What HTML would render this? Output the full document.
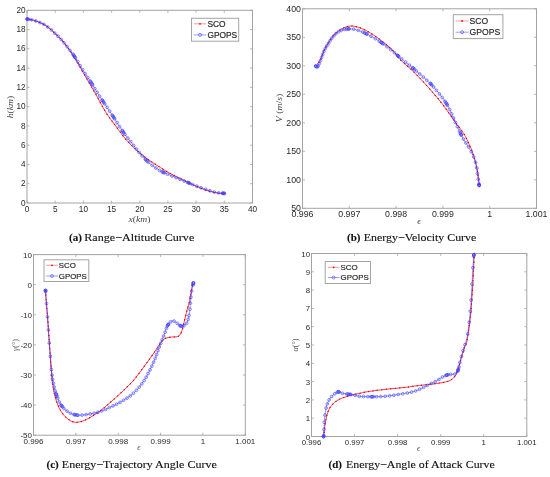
<!DOCTYPE html>
<html><head><meta charset="utf-8"><style>
html,body{margin:0;padding:0;background:#fff;}
body{width:550px;height:477px;overflow:hidden;}
svg{display:block;}
.t{font-family:"Liberation Sans",Arial,sans-serif;font-size:8.2px;fill:#282828;}
.lg{font-family:"Liberation Sans",Arial,sans-serif;font-size:8.1px;fill:#282828;stroke:#282828;stroke-width:0.18px;}
.ml{font-family:"Liberation Serif","DejaVu Serif",serif;font-size:9px;fill:#444;}
.ms{font-family:"Liberation Serif","DejaVu Serif",serif;font-size:8.2px;fill:#555;}
.me{font-family:"Liberation Serif","DejaVu Serif",serif;font-size:8px;fill:#555;}
.cap{font-family:"Liberation Serif","DejaVu Serif",serif;font-size:11px;fill:#111;stroke:#111;stroke-width:0.12px;}
</style></head><body>
<svg width="550" height="477" viewBox="0 0 550 477">
<rect width="550" height="477" fill="#fff"/>
<rect x="27.0" y="10.3" width="225.5" height="192.7" fill="none" stroke="#a4a4a4" stroke-width="1"/>
<path d="M27.0 203.0v-2.5M27.0 10.3v2.5M55.2 203.0v-2.5M55.2 10.3v2.5M83.4 203.0v-2.5M83.4 10.3v2.5M111.6 203.0v-2.5M111.6 10.3v2.5M139.8 203.0v-2.5M139.8 10.3v2.5M167.9 203.0v-2.5M167.9 10.3v2.5M196.1 203.0v-2.5M196.1 10.3v2.5M224.3 203.0v-2.5M224.3 10.3v2.5M252.5 203.0v-2.5M252.5 10.3v2.5M27.0 203.0h2.5M252.5 203.0h-2.5M27.0 183.7h2.5M252.5 183.7h-2.5M27.0 164.5h2.5M252.5 164.5h-2.5M27.0 145.2h2.5M252.5 145.2h-2.5M27.0 125.9h2.5M252.5 125.9h-2.5M27.0 106.7h2.5M252.5 106.7h-2.5M27.0 87.4h2.5M252.5 87.4h-2.5M27.0 68.1h2.5M252.5 68.1h-2.5M27.0 48.8h2.5M252.5 48.8h-2.5M27.0 29.6h2.5M252.5 29.6h-2.5M27.0 10.3h2.5M252.5 10.3h-2.5" stroke="#a4a4a4" stroke-width="0.8" fill="none"/>
<text x="27.0" y="211.9" text-anchor="middle" class="t" style="font-size:8.2px">0</text>
<text x="55.2" y="211.9" text-anchor="middle" class="t" style="font-size:8.2px">5</text>
<text x="83.4" y="211.9" text-anchor="middle" class="t" style="font-size:8.2px">10</text>
<text x="111.6" y="211.9" text-anchor="middle" class="t" style="font-size:8.2px">15</text>
<text x="139.8" y="211.9" text-anchor="middle" class="t" style="font-size:8.2px">20</text>
<text x="167.9" y="211.9" text-anchor="middle" class="t" style="font-size:8.2px">25</text>
<text x="196.1" y="211.9" text-anchor="middle" class="t" style="font-size:8.2px">30</text>
<text x="224.3" y="211.9" text-anchor="middle" class="t" style="font-size:8.2px">35</text>
<text x="252.5" y="211.9" text-anchor="middle" class="t" style="font-size:8.2px">40</text>
<text x="25.5" y="205.6" text-anchor="end" class="t" style="font-size:8.2px">0</text>
<text x="25.5" y="186.3" text-anchor="end" class="t" style="font-size:8.2px">2</text>
<text x="25.5" y="167.1" text-anchor="end" class="t" style="font-size:8.2px">4</text>
<text x="25.5" y="147.8" text-anchor="end" class="t" style="font-size:8.2px">6</text>
<text x="25.5" y="128.5" text-anchor="end" class="t" style="font-size:8.2px">8</text>
<text x="25.5" y="109.2" text-anchor="end" class="t" style="font-size:8.2px">10</text>
<text x="25.5" y="90.0" text-anchor="end" class="t" style="font-size:8.2px">12</text>
<text x="25.5" y="70.7" text-anchor="end" class="t" style="font-size:8.2px">14</text>
<text x="25.5" y="51.4" text-anchor="end" class="t" style="font-size:8.2px">16</text>
<text x="25.5" y="32.2" text-anchor="end" class="t" style="font-size:8.2px">18</text>
<text x="25.5" y="12.9" text-anchor="end" class="t" style="font-size:8.2px">20</text>
<path d="M27.1 19.0C28.5 19.3 32.4 19.8 35.5 20.9C38.6 22.0 42.5 23.4 46.0 25.7C49.5 28.0 53.4 31.9 56.4 34.7C59.4 37.5 61.0 39.0 63.8 42.5C66.6 46.0 70.2 51.0 73.2 55.5C76.2 60.0 78.8 64.9 81.6 69.7C84.4 74.5 87.3 79.8 90.0 84.4C92.7 89.0 94.9 92.7 97.5 97.3C100.1 101.9 102.4 106.9 105.5 111.8C108.6 116.7 112.5 121.7 116.0 126.4C119.5 131.1 122.9 136.0 126.4 140.0C129.9 144.0 133.4 147.3 136.9 150.5C140.4 153.7 143.5 156.1 147.4 158.9C151.3 161.8 156.6 165.1 160.5 167.6C164.4 170.1 167.5 172.0 171.0 173.9C174.5 175.8 177.9 177.3 181.4 179.1C184.9 180.8 188.1 182.7 191.9 184.4C195.8 186.2 201.0 188.3 204.5 189.6C208.0 190.9 210.5 191.5 212.9 192.1C215.3 192.7 217.1 193.0 219.0 193.2C220.9 193.4 223.4 193.4 224.3 193.4" fill="none" stroke="#ff2020" stroke-width="0.85"/>
<g fill="#d0002a"><circle cx="27.1" cy="19.0" r="0.7"/><circle cx="31.3" cy="19.8" r="0.7"/><circle cx="35.5" cy="20.9" r="0.7"/><circle cx="39.6" cy="22.4" r="0.7"/><circle cx="43.5" cy="24.2" r="0.7"/><circle cx="47.4" cy="26.7" r="0.7"/><circle cx="50.7" cy="29.4" r="0.7"/><circle cx="53.8" cy="32.3" r="0.7"/><circle cx="57.0" cy="35.2" r="0.7"/><circle cx="60.2" cy="38.4" r="0.7"/><circle cx="63.0" cy="41.5" r="0.7"/><circle cx="65.9" cy="45.2" r="0.7"/><circle cx="68.4" cy="48.6" r="0.7"/><circle cx="71.0" cy="52.3" r="0.7"/><circle cx="73.5" cy="56.0" r="0.7"/><circle cx="75.8" cy="59.7" r="0.7"/><circle cx="78.0" cy="63.4" r="0.7"/><circle cx="80.2" cy="67.3" r="0.7"/><circle cx="82.4" cy="71.2" r="0.7"/><circle cx="84.7" cy="75.1" r="0.7"/><circle cx="87.0" cy="79.1" r="0.7"/><circle cx="89.2" cy="83.0" r="0.7"/><circle cx="91.5" cy="87.1" r="0.7"/><circle cx="93.8" cy="90.9" r="0.7"/><circle cx="96.0" cy="94.6" r="0.7"/><circle cx="98.3" cy="98.7" r="0.7"/><circle cx="100.3" cy="102.5" r="0.7"/><circle cx="102.4" cy="106.4" r="0.7"/><circle cx="104.6" cy="110.3" r="0.7"/><circle cx="107.1" cy="114.2" r="0.7"/><circle cx="109.5" cy="117.7" r="0.7"/><circle cx="112.1" cy="121.1" r="0.7"/><circle cx="114.6" cy="124.5" r="0.7"/><circle cx="117.4" cy="128.3" r="0.7"/><circle cx="120.2" cy="132.1" r="0.7"/><circle cx="122.9" cy="135.7" r="0.7"/><circle cx="125.7" cy="139.2" r="0.7"/><circle cx="128.5" cy="142.3" r="0.7"/><circle cx="131.6" cy="145.6" r="0.7"/><circle cx="134.8" cy="148.6" r="0.7"/><circle cx="137.9" cy="151.4" r="0.7"/><circle cx="141.3" cy="154.3" r="0.7"/><circle cx="144.8" cy="157.0" r="0.7"/><circle cx="148.2" cy="159.5" r="0.7"/><circle cx="151.7" cy="161.9" r="0.7"/><circle cx="155.3" cy="164.3" r="0.7"/><circle cx="158.9" cy="166.6" r="0.7"/><circle cx="162.8" cy="169.0" r="0.7"/><circle cx="166.6" cy="171.4" r="0.7"/><circle cx="170.3" cy="173.5" r="0.7"/><circle cx="174.1" cy="175.5" r="0.7"/><circle cx="177.9" cy="177.4" r="0.7"/><circle cx="181.7" cy="179.3" r="0.7"/><circle cx="185.5" cy="181.2" r="0.7"/><circle cx="189.3" cy="183.2" r="0.7"/><circle cx="193.5" cy="185.1" r="0.7"/><circle cx="197.4" cy="186.8" r="0.7"/><circle cx="201.4" cy="188.4" r="0.7"/><circle cx="205.5" cy="190.0" r="0.7"/><circle cx="209.6" cy="191.3" r="0.7"/><circle cx="213.8" cy="192.3" r="0.7"/><circle cx="218.1" cy="193.1" r="0.7"/><circle cx="222.4" cy="193.4" r="0.7"/><circle cx="224.3" cy="193.4" r="0.7"/></g>
<path d="M27.1 19.0C28.5 19.3 32.4 19.8 35.5 20.9C38.6 22.0 42.5 23.4 46.0 25.7C49.5 28.0 53.4 31.9 56.4 34.7C59.4 37.5 60.8 38.9 63.8 42.5C66.8 46.1 71.1 51.6 74.2 56.1C77.3 60.6 79.8 65.3 82.6 69.7C85.4 74.1 88.5 78.5 91.0 82.3C93.5 86.1 95.1 89.3 97.3 92.8C99.5 96.3 101.8 99.5 104.4 103.4C107.0 107.3 109.8 111.5 112.8 116.0C115.8 120.5 118.9 125.9 122.2 130.6C125.5 135.3 129.5 140.2 132.7 144.2C135.8 148.2 138.3 151.5 141.1 154.7C143.9 157.8 146.6 160.6 149.5 163.1C152.4 165.6 155.9 168.1 158.4 169.7C160.9 171.3 161.6 171.5 164.7 172.9C167.8 174.3 173.2 176.4 177.2 178.1C181.2 179.8 185.0 181.3 188.8 182.9C192.7 184.5 196.3 186.0 200.3 187.5C204.3 189.0 209.8 190.8 212.9 191.7C216.0 192.6 217.1 192.7 219.0 193.0C220.9 193.3 223.4 193.3 224.3 193.4" fill="none" stroke="#3030ff" stroke-width="0.7" stroke-opacity="0.75"/>
<g fill="none" stroke="#4040ff" stroke-width="0.85" stroke-opacity="0.72"><circle cx="27.1" cy="19.0" r="1.4"/><circle cx="31.6" cy="19.8" r="1.4"/><circle cx="35.8" cy="21.0" r="1.4"/><circle cx="39.9" cy="22.6" r="1.4"/><circle cx="43.9" cy="24.4" r="1.4"/><circle cx="47.8" cy="27.0" r="1.4"/><circle cx="51.4" cy="30.0" r="1.4"/><circle cx="54.8" cy="33.2" r="1.4"/><circle cx="58.0" cy="36.2" r="1.4"/><circle cx="61.2" cy="39.5" r="1.4"/><circle cx="64.1" cy="42.9" r="1.4"/><circle cx="67.1" cy="46.6" r="1.4"/><circle cx="70.0" cy="50.4" r="1.4"/><circle cx="72.9" cy="54.2" r="1.4"/><circle cx="75.4" cy="57.9" r="1.4"/><circle cx="77.7" cy="61.6" r="1.4"/><circle cx="80.1" cy="65.7" r="1.4"/><circle cx="82.6" cy="69.7" r="1.4"/><circle cx="85.2" cy="73.6" r="1.4"/><circle cx="87.8" cy="77.5" r="1.4"/><circle cx="90.2" cy="81.1" r="1.4"/><circle cx="92.6" cy="84.9" r="1.4"/><circle cx="94.8" cy="88.7" r="1.4"/><circle cx="97.1" cy="92.4" r="1.4"/><circle cx="99.6" cy="96.3" r="1.4"/><circle cx="102.1" cy="100.1" r="1.4"/><circle cx="104.7" cy="103.8" r="1.4"/><circle cx="107.1" cy="107.4" r="1.4"/><circle cx="109.6" cy="111.1" r="1.4"/><circle cx="112.2" cy="115.1" r="1.4"/><circle cx="114.6" cy="118.8" r="1.4"/><circle cx="117.1" cy="122.7" r="1.4"/><circle cx="119.6" cy="126.7" r="1.4"/><circle cx="122.2" cy="130.6" r="1.4"/><circle cx="125.0" cy="134.4" r="1.4"/><circle cx="127.9" cy="138.1" r="1.4"/><circle cx="130.7" cy="141.7" r="1.4"/><circle cx="133.6" cy="145.4" r="1.4"/><circle cx="136.5" cy="149.1" r="1.4"/><circle cx="139.2" cy="152.5" r="1.4"/><circle cx="142.2" cy="155.9" r="1.4"/><circle cx="145.3" cy="159.1" r="1.4"/><circle cx="148.6" cy="162.3" r="1.4"/><circle cx="152.2" cy="165.3" r="1.4"/><circle cx="155.9" cy="168.0" r="1.4"/><circle cx="159.5" cy="170.4" r="1.4"/><circle cx="163.6" cy="172.4" r="1.4"/><circle cx="167.6" cy="174.2" r="1.4"/><circle cx="172.0" cy="176.0" r="1.4"/><circle cx="176.0" cy="177.6" r="1.4"/><circle cx="180.0" cy="179.3" r="1.4"/><circle cx="184.2" cy="181.0" r="1.4"/><circle cx="188.4" cy="182.7" r="1.4"/><circle cx="192.6" cy="184.5" r="1.4"/><circle cx="196.8" cy="186.2" r="1.4"/><circle cx="201.1" cy="187.8" r="1.4"/><circle cx="205.6" cy="189.3" r="1.4"/><circle cx="210.0" cy="190.8" r="1.4"/><circle cx="214.3" cy="192.1" r="1.4"/><circle cx="218.6" cy="192.9" r="1.4"/><circle cx="223.0" cy="193.3" r="1.4"/><circle cx="224.3" cy="193.4" r="1.4"/><circle cx="27.2" cy="19.0" r="1.4"/><circle cx="27.6" cy="19.1" r="1.4"/><circle cx="28.7" cy="19.3" r="1.4"/><circle cx="73.6" cy="55.2" r="1.4"/><circle cx="74.2" cy="56.1" r="1.4"/><circle cx="74.8" cy="57.0" r="1.4"/><circle cx="90.8" cy="81.9" r="1.4"/><circle cx="91.5" cy="83.1" r="1.4"/><circle cx="92.2" cy="84.2" r="1.4"/><circle cx="102.4" cy="100.4" r="1.4"/><circle cx="103.1" cy="101.5" r="1.4"/><circle cx="103.9" cy="102.6" r="1.4"/><circle cx="112.8" cy="116.0" r="1.4"/><circle cx="113.4" cy="116.9" r="1.4"/><circle cx="114.0" cy="117.9" r="1.4"/><circle cx="122.5" cy="131.1" r="1.4"/><circle cx="123.2" cy="132.0" r="1.4"/><circle cx="123.9" cy="133.0" r="1.4"/><circle cx="145.8" cy="159.7" r="1.4"/><circle cx="146.7" cy="160.5" r="1.4"/><circle cx="147.5" cy="161.3" r="1.4"/><circle cx="162.2" cy="171.8" r="1.4"/><circle cx="163.3" cy="172.3" r="1.4"/><circle cx="164.4" cy="172.8" r="1.4"/><circle cx="187.6" cy="182.4" r="1.4"/><circle cx="188.8" cy="182.9" r="1.4"/><circle cx="189.9" cy="183.4" r="1.4"/><circle cx="222.4" cy="193.3" r="1.4"/><circle cx="223.4" cy="193.4" r="1.4"/><circle cx="224.3" cy="193.4" r="1.4"/></g>
<rect x="191.5" y="18.3" width="47.2" height="22.9" fill="#fff" stroke="#a4a4a4" stroke-width="1"/>
<path d="M193.7 23.8H206.3" stroke="#ff5a5a" stroke-width="1" stroke-opacity="0.6"/>
<circle cx="200.0" cy="23.8" r="0.9" fill="#ff0000"/>
<path d="M193.7 34.9H206.3" stroke="#5a5aff" stroke-width="1" stroke-opacity="0.6"/>
<circle cx="200.0" cy="34.9" r="1.5" fill="none" stroke="#4848ff" stroke-width="0.85" stroke-opacity="0.75"/>
<text x="207.4" y="26.7" class="lg" style="font-size:8.40px">SCO</text>
<text x="207.4" y="37.8" class="lg" style="font-size:8.40px">GPOPS</text>
<rect x="302.5" y="8.8" width="234.0" height="199.5" fill="none" stroke="#a4a4a4" stroke-width="1"/>
<path d="M302.5 208.3v-2.5M302.5 8.8v2.5M349.3 208.3v-2.5M349.3 8.8v2.5M396.1 208.3v-2.5M396.1 8.8v2.5M442.9 208.3v-2.5M442.9 8.8v2.5M489.7 208.3v-2.5M489.7 8.8v2.5M536.5 208.3v-2.5M536.5 8.8v2.5M302.5 208.3h2.5M536.5 208.3h-2.5M302.5 179.8h2.5M536.5 179.8h-2.5M302.5 151.3h2.5M536.5 151.3h-2.5M302.5 122.8h2.5M536.5 122.8h-2.5M302.5 94.3h2.5M536.5 94.3h-2.5M302.5 65.8h2.5M536.5 65.8h-2.5M302.5 37.3h2.5M536.5 37.3h-2.5M302.5 8.8h2.5M536.5 8.8h-2.5" stroke="#a4a4a4" stroke-width="0.8" fill="none"/>
<text x="302.5" y="217.4" text-anchor="middle" class="t" style="font-size:8.8px">0.996</text>
<text x="349.3" y="217.4" text-anchor="middle" class="t" style="font-size:8.8px">0.997</text>
<text x="396.1" y="217.4" text-anchor="middle" class="t" style="font-size:8.8px">0.998</text>
<text x="442.9" y="217.4" text-anchor="middle" class="t" style="font-size:8.8px">0.999</text>
<text x="489.7" y="217.4" text-anchor="middle" class="t" style="font-size:8.8px">1</text>
<text x="536.5" y="217.4" text-anchor="middle" class="t" style="font-size:8.8px">1.001</text>
<text x="301.0" y="211.2" text-anchor="end" class="t" style="font-size:8.8px">50</text>
<text x="301.0" y="182.7" text-anchor="end" class="t" style="font-size:8.8px">100</text>
<text x="301.0" y="154.2" text-anchor="end" class="t" style="font-size:8.8px">150</text>
<text x="301.0" y="125.7" text-anchor="end" class="t" style="font-size:8.8px">200</text>
<text x="301.0" y="97.2" text-anchor="end" class="t" style="font-size:8.8px">250</text>
<text x="301.0" y="68.7" text-anchor="end" class="t" style="font-size:8.8px">300</text>
<text x="301.0" y="40.2" text-anchor="end" class="t" style="font-size:8.8px">350</text>
<text x="301.0" y="11.7" text-anchor="end" class="t" style="font-size:8.8px">400</text>
<path d="M316.3 65.9C317.1 64.7 319.5 61.2 320.8 58.6C322.1 56.0 323.0 52.7 324.3 50.0C325.6 47.3 327.0 44.9 328.5 42.5C330.0 40.1 331.6 37.5 333.5 35.4C335.4 33.3 337.4 31.5 339.8 30.0C342.2 28.5 345.4 26.8 348.2 26.3C351.0 25.8 353.5 26.0 356.6 26.8C359.7 27.6 363.2 28.9 367.0 31.0C370.8 33.1 375.4 36.2 379.6 39.3C383.8 42.4 388.8 46.4 392.2 49.8C395.6 53.1 396.9 56.2 400.0 59.4C403.1 62.6 407.0 65.6 410.5 68.9C414.0 72.2 417.5 75.6 421.0 79.3C424.5 83.0 427.9 86.9 431.4 90.9C434.9 94.9 438.8 99.4 441.9 103.4C445.0 107.4 447.7 111.3 450.3 115.0C452.9 118.7 455.3 122.3 457.6 125.4C459.9 128.5 462.0 130.7 463.9 133.8C465.8 137.0 467.8 141.4 469.1 144.3C470.5 147.2 471.0 148.3 472.0 151.0C473.0 153.7 474.1 156.7 475.0 160.3C475.9 163.9 477.0 168.8 477.7 172.8C478.4 176.8 478.9 182.4 479.2 184.3" fill="none" stroke="#ff2020" stroke-width="0.85"/>
<g fill="#d0002a"><circle cx="316.3" cy="65.9" r="0.7"/><circle cx="318.7" cy="62.2" r="0.7"/><circle cx="320.8" cy="58.6" r="0.7"/><circle cx="322.5" cy="54.6" r="0.7"/><circle cx="324.0" cy="50.5" r="0.7"/><circle cx="326.0" cy="46.7" r="0.7"/><circle cx="328.2" cy="43.0" r="0.7"/><circle cx="330.5" cy="39.3" r="0.7"/><circle cx="333.1" cy="35.8" r="0.7"/><circle cx="336.2" cy="32.7" r="0.7"/><circle cx="339.8" cy="30.0" r="0.7"/><circle cx="343.6" cy="27.9" r="0.7"/><circle cx="347.6" cy="26.4" r="0.7"/><circle cx="352.0" cy="26.0" r="0.7"/><circle cx="356.3" cy="26.7" r="0.7"/><circle cx="360.5" cy="28.0" r="0.7"/><circle cx="364.4" cy="29.7" r="0.7"/><circle cx="368.2" cy="31.7" r="0.7"/><circle cx="371.9" cy="33.9" r="0.7"/><circle cx="375.8" cy="36.5" r="0.7"/><circle cx="379.2" cy="39.0" r="0.7"/><circle cx="382.6" cy="41.6" r="0.7"/><circle cx="386.2" cy="44.5" r="0.7"/><circle cx="389.6" cy="47.4" r="0.7"/><circle cx="392.9" cy="50.5" r="0.7"/><circle cx="395.5" cy="53.7" r="0.7"/><circle cx="398.1" cy="57.2" r="0.7"/><circle cx="400.9" cy="60.4" r="0.7"/><circle cx="404.4" cy="63.5" r="0.7"/><circle cx="407.6" cy="66.3" r="0.7"/><circle cx="410.9" cy="69.2" r="0.7"/><circle cx="414.0" cy="72.3" r="0.7"/><circle cx="417.2" cy="75.4" r="0.7"/><circle cx="420.3" cy="78.6" r="0.7"/><circle cx="423.4" cy="81.9" r="0.7"/><circle cx="426.5" cy="85.4" r="0.7"/><circle cx="429.7" cy="88.9" r="0.7"/><circle cx="432.5" cy="92.1" r="0.7"/><circle cx="435.3" cy="95.5" r="0.7"/><circle cx="438.2" cy="98.8" r="0.7"/><circle cx="440.9" cy="102.2" r="0.7"/><circle cx="443.7" cy="105.8" r="0.7"/><circle cx="446.3" cy="109.3" r="0.7"/><circle cx="448.7" cy="112.8" r="0.7"/><circle cx="451.3" cy="116.5" r="0.7"/><circle cx="453.8" cy="120.0" r="0.7"/><circle cx="456.5" cy="123.8" r="0.7"/><circle cx="459.2" cy="127.5" r="0.7"/><circle cx="461.9" cy="130.9" r="0.7"/><circle cx="464.3" cy="134.4" r="0.7"/><circle cx="466.4" cy="138.4" r="0.7"/><circle cx="468.2" cy="142.4" r="0.7"/><circle cx="470.0" cy="146.3" r="0.7"/><circle cx="471.7" cy="150.2" r="0.7"/><circle cx="473.2" cy="154.4" r="0.7"/><circle cx="474.5" cy="158.5" r="0.7"/><circle cx="475.6" cy="162.6" r="0.7"/><circle cx="476.5" cy="166.8" r="0.7"/><circle cx="477.4" cy="171.2" r="0.7"/><circle cx="478.1" cy="175.3" r="0.7"/><circle cx="478.7" cy="179.8" r="0.7"/><circle cx="479.2" cy="184.1" r="0.7"/><circle cx="479.2" cy="184.3" r="0.7"/></g>
<path d="M315.7 66.1C316.1 66.2 316.9 67.8 317.8 66.6C318.7 65.4 319.9 61.8 321.0 59.2C322.1 56.6 322.9 53.5 324.1 50.9C325.3 48.3 326.7 46.0 328.3 43.5C329.9 41.0 331.6 38.3 333.5 36.2C335.4 34.1 337.4 32.2 339.8 31.0C342.2 29.8 345.4 29.1 348.2 28.9C351.0 28.7 353.5 29.0 356.6 29.9C359.7 30.8 363.2 32.2 367.0 34.1C370.8 36.0 375.4 38.6 379.6 41.4C383.8 44.2 388.6 48.1 392.2 50.9C395.8 53.7 397.6 55.6 401.0 58.4C404.4 61.2 409.3 65.0 412.6 67.8C415.9 70.6 417.9 72.3 421.0 75.1C424.1 77.9 427.9 80.9 431.4 84.6C434.9 88.3 439.1 93.4 441.9 97.1C444.7 100.8 446.1 102.8 448.2 106.6C450.3 110.4 452.6 116.0 454.5 120.2C456.4 124.4 458.1 128.4 459.7 131.7C461.3 135.0 462.6 137.8 463.9 140.1C465.2 142.4 466.2 143.1 467.7 145.6C469.2 148.1 471.5 151.8 472.9 155.0C474.3 158.2 475.3 161.2 476.1 164.5C476.9 167.8 477.2 171.4 477.7 174.9C478.2 178.4 478.9 183.7 479.2 185.4" fill="none" stroke="#3030ff" stroke-width="0.7" stroke-opacity="0.75"/>
<g fill="none" stroke="#4040ff" stroke-width="0.85" stroke-opacity="0.72"><circle cx="315.7" cy="66.1" r="1.4"/><circle cx="318.1" cy="66.2" r="1.4"/><circle cx="319.3" cy="63.5" r="1.4"/><circle cx="320.5" cy="60.6" r="1.4"/><circle cx="321.6" cy="57.6" r="1.4"/><circle cx="322.7" cy="54.5" r="1.4"/><circle cx="323.9" cy="51.4" r="1.4"/><circle cx="325.2" cy="48.6" r="1.4"/><circle cx="326.8" cy="45.9" r="1.4"/><circle cx="328.5" cy="43.3" r="1.4"/><circle cx="330.1" cy="40.7" r="1.4"/><circle cx="331.8" cy="38.2" r="1.4"/><circle cx="333.9" cy="35.8" r="1.4"/><circle cx="336.0" cy="33.6" r="1.4"/><circle cx="338.6" cy="31.7" r="1.4"/><circle cx="341.3" cy="30.3" r="1.4"/><circle cx="344.4" cy="29.4" r="1.4"/><circle cx="349.0" cy="28.9" r="1.4"/><circle cx="353.7" cy="29.2" r="1.4"/><circle cx="358.2" cy="30.4" r="1.4"/><circle cx="362.6" cy="32.0" r="1.4"/><circle cx="367.0" cy="34.1" r="1.4"/><circle cx="371.0" cy="36.2" r="1.4"/><circle cx="375.3" cy="38.7" r="1.4"/><circle cx="379.2" cy="41.1" r="1.4"/><circle cx="383.1" cy="43.8" r="1.4"/><circle cx="387.0" cy="46.8" r="1.4"/><circle cx="390.7" cy="49.7" r="1.4"/><circle cx="394.5" cy="52.7" r="1.4"/><circle cx="398.0" cy="55.8" r="1.4"/><circle cx="401.7" cy="59.0" r="1.4"/><circle cx="405.6" cy="62.1" r="1.4"/><circle cx="409.3" cy="65.1" r="1.4"/><circle cx="412.9" cy="68.1" r="1.4"/><circle cx="416.4" cy="71.0" r="1.4"/><circle cx="419.8" cy="74.0" r="1.4"/><circle cx="423.3" cy="77.1" r="1.4"/><circle cx="426.8" cy="80.2" r="1.4"/><circle cx="430.3" cy="83.5" r="1.4"/><circle cx="433.6" cy="87.0" r="1.4"/><circle cx="436.5" cy="90.4" r="1.4"/><circle cx="439.4" cy="93.9" r="1.4"/><circle cx="442.2" cy="97.5" r="1.4"/><circle cx="444.9" cy="101.2" r="1.4"/><circle cx="447.4" cy="105.2" r="1.4"/><circle cx="449.7" cy="109.5" r="1.4"/><circle cx="451.6" cy="113.8" r="1.4"/><circle cx="453.5" cy="118.0" r="1.4"/><circle cx="455.4" cy="122.3" r="1.4"/><circle cx="457.4" cy="126.7" r="1.4"/><circle cx="459.4" cy="131.0" r="1.4"/><circle cx="461.3" cy="135.1" r="1.4"/><circle cx="463.4" cy="139.1" r="1.4"/><circle cx="465.9" cy="142.9" r="1.4"/><circle cx="468.5" cy="146.9" r="1.4"/><circle cx="471.3" cy="151.7" r="1.4"/><circle cx="473.7" cy="156.9" r="1.4"/><circle cx="475.5" cy="162.2" r="1.4"/><circle cx="476.8" cy="167.9" r="1.4"/><circle cx="477.5" cy="173.5" r="1.4"/><circle cx="478.3" cy="179.2" r="1.4"/><circle cx="479.1" cy="184.8" r="1.4"/><circle cx="479.2" cy="185.4" r="1.4"/><circle cx="315.7" cy="66.1" r="1.4"/><circle cx="316.3" cy="66.6" r="1.4"/><circle cx="317.2" cy="67.0" r="1.4"/><circle cx="346.5" cy="29.1" r="1.4"/><circle cx="347.6" cy="28.9" r="1.4"/><circle cx="348.8" cy="28.9" r="1.4"/><circle cx="364.4" cy="32.8" r="1.4"/><circle cx="365.5" cy="33.4" r="1.4"/><circle cx="366.6" cy="33.9" r="1.4"/><circle cx="380.9" cy="42.3" r="1.4"/><circle cx="381.7" cy="42.9" r="1.4"/><circle cx="382.6" cy="43.5" r="1.4"/><circle cx="397.2" cy="55.1" r="1.4"/><circle cx="398.0" cy="55.8" r="1.4"/><circle cx="398.8" cy="56.6" r="1.4"/><circle cx="412.6" cy="67.8" r="1.4"/><circle cx="413.6" cy="68.6" r="1.4"/><circle cx="414.5" cy="69.4" r="1.4"/><circle cx="430.3" cy="83.5" r="1.4"/><circle cx="431.1" cy="84.2" r="1.4"/><circle cx="431.8" cy="85.0" r="1.4"/><circle cx="445.9" cy="102.6" r="1.4"/><circle cx="446.4" cy="103.5" r="1.4"/><circle cx="447.0" cy="104.5" r="1.4"/><circle cx="460.3" cy="133.0" r="1.4"/><circle cx="460.8" cy="133.9" r="1.4"/><circle cx="461.2" cy="134.8" r="1.4"/><circle cx="479.0" cy="184.0" r="1.4"/><circle cx="479.1" cy="185.0" r="1.4"/><circle cx="479.2" cy="185.4" r="1.4"/></g>
<rect x="453.3" y="14.7" width="49.6" height="23.9" fill="#fff" stroke="#a4a4a4" stroke-width="1"/>
<path d="M455.6 21.0H468.6" stroke="#ff5a5a" stroke-width="1" stroke-opacity="0.6"/>
<circle cx="462.1" cy="21.0" r="0.9" fill="#ff0000"/>
<path d="M455.6 32.2H468.6" stroke="#5a5aff" stroke-width="1" stroke-opacity="0.6"/>
<circle cx="462.1" cy="32.2" r="1.5" fill="none" stroke="#4848ff" stroke-width="0.85" stroke-opacity="0.75"/>
<text x="469.6" y="23.9" class="lg" style="font-size:8.60px">SCO</text>
<text x="469.6" y="35.1" class="lg" style="font-size:8.60px">GPOPS</text>
<rect x="33.5" y="254.6" width="211.8" height="180.6" fill="none" stroke="#a4a4a4" stroke-width="1"/>
<path d="M33.5 435.2v-2.5M33.5 254.6v2.5M75.9 435.2v-2.5M75.9 254.6v2.5M118.2 435.2v-2.5M118.2 254.6v2.5M160.6 435.2v-2.5M160.6 254.6v2.5M202.9 435.2v-2.5M202.9 254.6v2.5M245.3 435.2v-2.5M245.3 254.6v2.5M33.5 254.6h2.5M245.3 254.6h-2.5M33.5 284.7h2.5M245.3 284.7h-2.5M33.5 314.8h2.5M245.3 314.8h-2.5M33.5 344.9h2.5M245.3 344.9h-2.5M33.5 375.0h2.5M245.3 375.0h-2.5M33.5 405.1h2.5M245.3 405.1h-2.5M33.5 435.2h2.5M245.3 435.2h-2.5" stroke="#a4a4a4" stroke-width="0.8" fill="none"/>
<text x="33.5" y="444.0" text-anchor="middle" class="t" style="font-size:8.0px">0.996</text>
<text x="75.9" y="444.0" text-anchor="middle" class="t" style="font-size:8.0px">0.997</text>
<text x="118.2" y="444.0" text-anchor="middle" class="t" style="font-size:8.0px">0.998</text>
<text x="160.6" y="444.0" text-anchor="middle" class="t" style="font-size:8.0px">0.999</text>
<text x="202.9" y="444.0" text-anchor="middle" class="t" style="font-size:8.0px">1</text>
<text x="245.3" y="444.0" text-anchor="middle" class="t" style="font-size:8.0px">1.001</text>
<text x="32.0" y="257.7" text-anchor="end" class="t" style="font-size:8.0px">10</text>
<text x="32.0" y="287.8" text-anchor="end" class="t" style="font-size:8.0px">0</text>
<text x="32.0" y="317.9" text-anchor="end" class="t" style="font-size:8.0px">-10</text>
<text x="32.0" y="348.0" text-anchor="end" class="t" style="font-size:8.0px">-20</text>
<text x="32.0" y="378.1" text-anchor="end" class="t" style="font-size:8.0px">-30</text>
<text x="32.0" y="408.2" text-anchor="end" class="t" style="font-size:8.0px">-40</text>
<text x="32.0" y="438.3" text-anchor="end" class="t" style="font-size:8.0px">-50</text>
<path d="M45.5 290.5C45.7 292.8 46.1 299.6 46.5 304.1C46.9 308.6 47.2 313.0 47.6 317.7C48.0 322.4 48.2 327.3 48.6 332.4C49.0 337.5 49.4 343.2 49.7 348.1C50.1 353.0 50.3 356.2 50.7 361.8C51.1 367.4 51.5 375.3 52.3 381.4C53.1 387.5 54.1 393.3 55.5 398.2C56.9 403.1 58.6 407.3 60.7 410.8C62.8 414.3 65.5 417.2 68.0 419.1C70.5 421.0 72.6 422.1 75.4 422.3C78.2 422.5 81.1 421.8 84.8 420.2C88.5 418.6 93.2 415.8 97.4 412.9C101.6 410.0 106.0 406.1 110.0 402.7C114.0 399.3 117.7 395.9 121.5 392.3C125.3 388.7 129.2 385.2 133.1 380.8C136.9 376.4 141.1 370.4 144.6 365.8C148.1 361.2 151.1 357.0 153.8 353.1C156.5 349.2 158.9 345.1 160.8 342.7C162.7 340.3 163.3 339.4 165.1 338.5C166.9 337.6 169.3 337.3 171.4 337.0C173.5 336.7 176.0 337.3 177.7 336.5C179.4 335.7 180.3 335.0 181.5 332.0C182.7 329.0 184.0 322.3 185.0 318.5C186.0 314.7 186.5 312.1 187.3 309.2C188.1 306.3 189.0 303.9 189.6 301.2C190.2 298.5 190.5 295.8 191.0 293.0C191.5 290.2 192.2 286.1 192.4 284.7" fill="none" stroke="#ff2020" stroke-width="0.85"/>
<g fill="#d0002a"><circle cx="45.5" cy="290.5" r="0.7"/><circle cx="45.8" cy="295.0" r="0.7"/><circle cx="46.2" cy="299.6" r="0.7"/><circle cx="46.5" cy="304.1" r="0.7"/><circle cx="46.9" cy="308.6" r="0.7"/><circle cx="47.2" cy="313.1" r="0.7"/><circle cx="47.6" cy="317.7" r="0.7"/><circle cx="47.9" cy="322.0" r="0.7"/><circle cx="48.2" cy="326.4" r="0.7"/><circle cx="48.5" cy="330.9" r="0.7"/><circle cx="48.8" cy="335.5" r="0.7"/><circle cx="49.1" cy="339.8" r="0.7"/><circle cx="49.4" cy="344.0" r="0.7"/><circle cx="49.7" cy="348.6" r="0.7"/><circle cx="50.0" cy="353.0" r="0.7"/><circle cx="50.4" cy="357.3" r="0.7"/><circle cx="50.7" cy="361.8" r="0.7"/><circle cx="51.0" cy="366.0" r="0.7"/><circle cx="51.3" cy="370.7" r="0.7"/><circle cx="51.7" cy="375.5" r="0.7"/><circle cx="52.1" cy="380.2" r="0.7"/><circle cx="52.7" cy="384.4" r="0.7"/><circle cx="53.5" cy="389.1" r="0.7"/><circle cx="54.3" cy="393.6" r="0.7"/><circle cx="55.4" cy="397.7" r="0.7"/><circle cx="56.7" cy="402.0" r="0.7"/><circle cx="58.4" cy="406.3" r="0.7"/><circle cx="60.3" cy="410.1" r="0.7"/><circle cx="62.7" cy="413.8" r="0.7"/><circle cx="65.7" cy="417.1" r="0.7"/><circle cx="69.0" cy="419.8" r="0.7"/><circle cx="72.8" cy="421.8" r="0.7"/><circle cx="77.1" cy="422.3" r="0.7"/><circle cx="81.4" cy="421.5" r="0.7"/><circle cx="85.5" cy="419.9" r="0.7"/><circle cx="89.6" cy="417.8" r="0.7"/><circle cx="93.5" cy="415.5" r="0.7"/><circle cx="97.4" cy="412.9" r="0.7"/><circle cx="100.8" cy="410.4" r="0.7"/><circle cx="104.2" cy="407.6" r="0.7"/><circle cx="107.6" cy="404.8" r="0.7"/><circle cx="110.8" cy="402.0" r="0.7"/><circle cx="114.3" cy="398.9" r="0.7"/><circle cx="117.7" cy="395.9" r="0.7"/><circle cx="121.1" cy="392.7" r="0.7"/><circle cx="124.2" cy="389.8" r="0.7"/><circle cx="127.3" cy="386.8" r="0.7"/><circle cx="130.4" cy="383.7" r="0.7"/><circle cx="133.5" cy="380.4" r="0.7"/><circle cx="136.2" cy="377.0" r="0.7"/><circle cx="139.0" cy="373.4" r="0.7"/><circle cx="141.7" cy="369.7" r="0.7"/><circle cx="144.3" cy="366.3" r="0.7"/><circle cx="147.0" cy="362.6" r="0.7"/><circle cx="149.5" cy="359.2" r="0.7"/><circle cx="152.1" cy="355.5" r="0.7"/><circle cx="154.6" cy="351.9" r="0.7"/><circle cx="157.1" cy="348.1" r="0.7"/><circle cx="159.6" cy="344.3" r="0.7"/><circle cx="162.2" cy="340.9" r="0.7"/><circle cx="165.6" cy="338.2" r="0.7"/><circle cx="169.9" cy="337.2" r="0.7"/><circle cx="174.3" cy="336.9" r="0.7"/><circle cx="178.3" cy="336.2" r="0.7"/><circle cx="181.1" cy="332.8" r="0.7"/><circle cx="182.6" cy="328.5" r="0.7"/><circle cx="183.7" cy="324.0" r="0.7"/><circle cx="184.7" cy="319.7" r="0.7"/><circle cx="185.8" cy="315.4" r="0.7"/><circle cx="186.8" cy="311.2" r="0.7"/><circle cx="187.9" cy="307.0" r="0.7"/><circle cx="189.2" cy="302.8" r="0.7"/><circle cx="190.1" cy="298.5" r="0.7"/><circle cx="190.8" cy="294.1" r="0.7"/><circle cx="191.5" cy="289.9" r="0.7"/><circle cx="192.2" cy="285.6" r="0.7"/><circle cx="192.4" cy="284.7" r="0.7"/></g>
<path d="M45.5 290.5C45.7 292.8 46.1 299.6 46.5 304.1C46.9 308.6 47.2 313.0 47.6 317.7C48.0 322.4 48.2 327.3 48.6 332.4C49.0 337.5 49.4 343.2 49.7 348.1C50.1 353.0 50.3 357.0 50.7 361.8C51.1 366.6 51.5 372.2 52.3 377.2C53.1 382.2 54.1 387.3 55.5 391.9C56.9 396.4 58.6 401.2 60.7 404.5C62.8 407.8 65.4 410.1 68.0 411.8C70.6 413.6 73.2 414.6 76.4 415.0C79.6 415.4 83.1 415.0 86.9 414.5C90.8 414.0 95.7 413.0 99.5 411.8C103.3 410.6 106.3 409.0 110.0 407.3C113.7 405.6 117.7 403.8 121.5 401.5C125.3 399.2 129.6 396.6 133.1 393.5C136.6 390.4 139.6 386.8 142.3 383.1C145.0 379.4 147.1 375.6 149.2 371.5C151.3 367.4 153.3 363.0 155.0 358.8C156.7 354.6 158.1 350.2 159.6 346.2C161.1 342.2 162.8 338.1 164.2 334.6C165.5 331.1 166.3 327.7 167.7 325.4C169.0 323.1 170.8 321.2 172.3 320.8C173.8 320.4 175.6 322.3 176.9 323.1C178.2 323.9 179.2 325.4 180.4 325.8C181.6 326.2 182.7 326.5 183.8 325.8C185.0 325.1 186.3 324.3 187.3 321.9C188.3 319.5 189.0 315.6 189.6 311.5C190.2 307.4 190.5 301.0 190.9 297.2C191.3 293.4 191.6 291.3 192.0 288.9C192.4 286.5 193.2 284.0 193.4 283.0" fill="none" stroke="#3030ff" stroke-width="0.7" stroke-opacity="0.75"/>
<g fill="none" stroke="#4040ff" stroke-width="0.85" stroke-opacity="0.72"><circle cx="45.5" cy="290.5" r="1.4"/><circle cx="46.5" cy="303.6" r="1.4"/><circle cx="47.5" cy="316.8" r="1.4"/><circle cx="48.4" cy="329.9" r="1.4"/><circle cx="49.3" cy="343.0" r="1.4"/><circle cx="50.3" cy="356.3" r="1.4"/><circle cx="51.4" cy="369.4" r="1.4"/><circle cx="52.0" cy="375.2" r="1.4"/><circle cx="52.6" cy="379.2" r="1.4"/><circle cx="53.4" cy="383.2" r="1.4"/><circle cx="54.2" cy="387.2" r="1.4"/><circle cx="55.2" cy="391.0" r="1.4"/><circle cx="56.4" cy="394.6" r="1.4"/><circle cx="57.7" cy="398.2" r="1.4"/><circle cx="59.3" cy="402.0" r="1.4"/><circle cx="61.3" cy="405.5" r="1.4"/><circle cx="63.9" cy="408.5" r="1.4"/><circle cx="67.0" cy="411.1" r="1.4"/><circle cx="70.4" cy="413.2" r="1.4"/><circle cx="74.0" cy="414.5" r="1.4"/><circle cx="78.0" cy="415.2" r="1.4"/><circle cx="82.1" cy="415.1" r="1.4"/><circle cx="86.1" cy="414.6" r="1.4"/><circle cx="90.2" cy="414.0" r="1.4"/><circle cx="94.1" cy="413.2" r="1.4"/><circle cx="97.9" cy="412.3" r="1.4"/><circle cx="101.7" cy="411.0" r="1.4"/><circle cx="105.5" cy="409.4" r="1.4"/><circle cx="109.3" cy="407.6" r="1.4"/><circle cx="113.0" cy="405.9" r="1.4"/><circle cx="116.5" cy="404.2" r="1.4"/><circle cx="120.0" cy="402.4" r="1.4"/><circle cx="123.5" cy="400.3" r="1.4"/><circle cx="127.0" cy="398.1" r="1.4"/><circle cx="130.2" cy="395.9" r="1.4"/><circle cx="133.4" cy="393.2" r="1.4"/><circle cx="136.4" cy="390.3" r="1.4"/><circle cx="139.2" cy="387.1" r="1.4"/><circle cx="141.8" cy="383.8" r="1.4"/><circle cx="144.1" cy="380.5" r="1.4"/><circle cx="146.2" cy="377.1" r="1.4"/><circle cx="148.1" cy="373.5" r="1.4"/><circle cx="150.0" cy="369.9" r="1.4"/><circle cx="151.9" cy="366.1" r="1.4"/><circle cx="153.6" cy="362.2" r="1.4"/><circle cx="155.2" cy="358.4" r="1.4"/><circle cx="156.6" cy="354.6" r="1.4"/><circle cx="158.0" cy="350.7" r="1.4"/><circle cx="159.3" cy="347.0" r="1.4"/><circle cx="160.7" cy="343.4" r="1.4"/><circle cx="162.1" cy="339.8" r="1.4"/><circle cx="163.6" cy="336.0" r="1.4"/><circle cx="165.1" cy="332.2" r="1.4"/><circle cx="166.4" cy="328.3" r="1.4"/><circle cx="168.1" cy="324.7" r="1.4"/><circle cx="170.6" cy="321.8" r="1.4"/><circle cx="174.0" cy="321.1" r="1.4"/><circle cx="177.2" cy="323.3" r="1.4"/><circle cx="180.2" cy="325.7" r="1.4"/><circle cx="183.9" cy="325.7" r="1.4"/><circle cx="186.7" cy="323.2" r="1.4"/><circle cx="188.1" cy="319.4" r="1.4"/><circle cx="189.0" cy="315.5" r="1.4"/><circle cx="189.9" cy="309.3" r="1.4"/><circle cx="190.4" cy="303.2" r="1.4"/><circle cx="190.9" cy="297.2" r="1.4"/><circle cx="191.7" cy="291.0" r="1.4"/><circle cx="192.9" cy="285.0" r="1.4"/><circle cx="193.4" cy="283.0" r="1.4"/><circle cx="45.5" cy="290.5" r="1.4"/><circle cx="45.5" cy="290.5" r="1.4"/><circle cx="45.6" cy="291.6" r="1.4"/><circle cx="56.1" cy="393.7" r="1.4"/><circle cx="56.5" cy="395.1" r="1.4"/><circle cx="57.0" cy="396.5" r="1.4"/><circle cx="61.1" cy="405.1" r="1.4"/><circle cx="61.8" cy="406.1" r="1.4"/><circle cx="62.5" cy="406.9" r="1.4"/><circle cx="74.6" cy="414.7" r="1.4"/><circle cx="75.8" cy="414.9" r="1.4"/><circle cx="77.0" cy="415.1" r="1.4"/><circle cx="167.4" cy="325.9" r="1.4"/><circle cx="168.0" cy="324.9" r="1.4"/><circle cx="168.5" cy="324.1" r="1.4"/><circle cx="179.9" cy="325.6" r="1.4"/><circle cx="181.0" cy="326.0" r="1.4"/><circle cx="182.0" cy="326.2" r="1.4"/><circle cx="193.1" cy="284.1" r="1.4"/><circle cx="193.4" cy="283.0" r="1.4"/><circle cx="193.4" cy="283.0" r="1.4"/></g>
<rect x="44.0" y="259.8" width="44.8" height="21.7" fill="#fff" stroke="#a4a4a4" stroke-width="1"/>
<path d="M46.0 265.3H58.0" stroke="#ff5a5a" stroke-width="1" stroke-opacity="0.6"/>
<circle cx="52.0" cy="265.3" r="0.9" fill="#ff0000"/>
<path d="M46.0 276.0H58.0" stroke="#5a5aff" stroke-width="1" stroke-opacity="0.6"/>
<circle cx="52.0" cy="276.0" r="1.5" fill="none" stroke="#4848ff" stroke-width="0.85" stroke-opacity="0.75"/>
<text x="58.8" y="268.2" class="lg" style="font-size:7.85px">SCO</text>
<text x="58.8" y="278.9" class="lg" style="font-size:7.85px">GPOPS</text>
<rect x="311.5" y="253.5" width="215.3" height="183.0" fill="none" stroke="#a4a4a4" stroke-width="1"/>
<path d="M311.5 436.5v-2.5M311.5 253.5v2.5M354.6 436.5v-2.5M354.6 253.5v2.5M397.6 436.5v-2.5M397.6 253.5v2.5M440.7 436.5v-2.5M440.7 253.5v2.5M483.7 436.5v-2.5M483.7 253.5v2.5M526.8 436.5v-2.5M526.8 253.5v2.5M311.5 436.5h2.5M526.8 436.5h-2.5M311.5 418.2h2.5M526.8 418.2h-2.5M311.5 399.9h2.5M526.8 399.9h-2.5M311.5 381.6h2.5M526.8 381.6h-2.5M311.5 363.3h2.5M526.8 363.3h-2.5M311.5 345.0h2.5M526.8 345.0h-2.5M311.5 326.7h2.5M526.8 326.7h-2.5M311.5 308.4h2.5M526.8 308.4h-2.5M311.5 290.1h2.5M526.8 290.1h-2.5M311.5 271.8h2.5M526.8 271.8h-2.5M311.5 253.5h2.5M526.8 253.5h-2.5" stroke="#a4a4a4" stroke-width="0.8" fill="none"/>
<text x="311.5" y="445.2" text-anchor="middle" class="t" style="font-size:7.8px">0.996</text>
<text x="354.6" y="445.2" text-anchor="middle" class="t" style="font-size:7.8px">0.997</text>
<text x="397.6" y="445.2" text-anchor="middle" class="t" style="font-size:7.8px">0.998</text>
<text x="440.7" y="445.2" text-anchor="middle" class="t" style="font-size:7.8px">0.999</text>
<text x="483.7" y="445.2" text-anchor="middle" class="t" style="font-size:7.8px">1</text>
<text x="526.8" y="445.2" text-anchor="middle" class="t" style="font-size:7.8px">1.001</text>
<text x="310.0" y="439.5" text-anchor="end" class="t" style="font-size:7.8px">0</text>
<text x="310.0" y="421.2" text-anchor="end" class="t" style="font-size:7.8px">1</text>
<text x="310.0" y="402.9" text-anchor="end" class="t" style="font-size:7.8px">2</text>
<text x="310.0" y="384.6" text-anchor="end" class="t" style="font-size:7.8px">3</text>
<text x="310.0" y="366.3" text-anchor="end" class="t" style="font-size:7.8px">4</text>
<text x="310.0" y="348.0" text-anchor="end" class="t" style="font-size:7.8px">5</text>
<text x="310.0" y="329.7" text-anchor="end" class="t" style="font-size:7.8px">6</text>
<text x="310.0" y="311.4" text-anchor="end" class="t" style="font-size:7.8px">7</text>
<text x="310.0" y="293.1" text-anchor="end" class="t" style="font-size:7.8px">8</text>
<text x="310.0" y="274.8" text-anchor="end" class="t" style="font-size:7.8px">9</text>
<text x="310.0" y="256.5" text-anchor="end" class="t" style="font-size:7.8px">10</text>
<path d="M323.6 436.6C323.8 434.9 324.4 429.3 324.8 426.5C325.2 423.7 325.4 421.9 325.9 419.6C326.4 417.3 327.0 414.6 327.7 412.6C328.4 410.6 329.1 408.9 330.0 407.5C330.9 406.1 331.8 405.1 332.9 404.0C333.9 402.9 335.1 402.0 336.3 401.1C337.5 400.2 338.9 399.5 340.3 398.8C341.8 398.1 343.4 397.6 345.0 397.1C346.6 396.6 348.1 396.1 349.6 395.6C351.1 395.2 352.5 394.8 354.2 394.4C355.9 394.0 358.1 393.7 359.9 393.3C361.7 392.9 362.5 392.6 365.0 392.1C367.5 391.7 370.6 391.2 374.9 390.6C379.2 390.1 385.4 389.4 390.7 388.8C396.0 388.2 402.6 387.7 406.9 387.2C411.2 386.7 412.4 386.3 416.4 385.8C420.4 385.3 426.7 384.7 430.9 384.2C435.1 383.7 438.8 383.2 441.8 382.7C444.8 382.1 447.1 381.7 449.1 380.9C451.1 380.1 452.4 379.0 453.6 377.8C454.8 376.6 455.5 375.7 456.4 373.6C457.3 371.6 458.2 368.4 459.1 365.5C460.0 362.6 460.9 359.4 461.8 356.4C462.7 353.4 463.6 349.9 464.5 347.3C465.4 344.7 466.0 345.6 467.0 340.6C468.0 335.6 469.5 325.5 470.4 317.1C471.3 308.7 471.8 299.2 472.4 290.3C473.0 281.4 473.5 269.5 473.8 263.4C474.1 257.2 474.3 255.1 474.4 253.4" fill="none" stroke="#ff2020" stroke-width="0.85"/>
<g fill="#d0002a"><circle cx="323.6" cy="436.6" r="0.7"/><circle cx="324.1" cy="432.4" r="0.7"/><circle cx="324.6" cy="428.1" r="0.7"/><circle cx="325.2" cy="423.7" r="0.7"/><circle cx="325.9" cy="419.6" r="0.7"/><circle cx="326.8" cy="415.5" r="0.7"/><circle cx="328.1" cy="411.4" r="0.7"/><circle cx="330.0" cy="407.5" r="0.7"/><circle cx="332.7" cy="404.2" r="0.7"/><circle cx="335.9" cy="401.4" r="0.7"/><circle cx="339.6" cy="399.1" r="0.7"/><circle cx="343.6" cy="397.6" r="0.7"/><circle cx="347.6" cy="396.2" r="0.7"/><circle cx="351.7" cy="395.0" r="0.7"/><circle cx="355.8" cy="394.1" r="0.7"/><circle cx="360.1" cy="393.3" r="0.7"/><circle cx="364.3" cy="392.2" r="0.7"/><circle cx="368.6" cy="391.5" r="0.7"/><circle cx="372.9" cy="390.9" r="0.7"/><circle cx="377.2" cy="390.3" r="0.7"/><circle cx="381.9" cy="389.8" r="0.7"/><circle cx="386.3" cy="389.3" r="0.7"/><circle cx="390.7" cy="388.8" r="0.7"/><circle cx="395.2" cy="388.4" r="0.7"/><circle cx="399.8" cy="387.9" r="0.7"/><circle cx="404.1" cy="387.5" r="0.7"/><circle cx="408.5" cy="387.0" r="0.7"/><circle cx="412.8" cy="386.3" r="0.7"/><circle cx="417.2" cy="385.7" r="0.7"/><circle cx="421.5" cy="385.2" r="0.7"/><circle cx="426.1" cy="384.7" r="0.7"/><circle cx="430.5" cy="384.3" r="0.7"/><circle cx="434.9" cy="383.7" r="0.7"/><circle cx="439.2" cy="383.1" r="0.7"/><circle cx="443.5" cy="382.4" r="0.7"/><circle cx="447.7" cy="381.4" r="0.7"/><circle cx="451.5" cy="379.6" r="0.7"/><circle cx="454.6" cy="376.7" r="0.7"/><circle cx="456.7" cy="373.0" r="0.7"/><circle cx="458.1" cy="368.7" r="0.7"/><circle cx="459.4" cy="364.6" r="0.7"/><circle cx="460.6" cy="360.4" r="0.7"/><circle cx="461.9" cy="356.1" r="0.7"/><circle cx="463.1" cy="352.0" r="0.7"/><circle cx="464.3" cy="347.8" r="0.7"/><circle cx="466.1" cy="344.0" r="0.7"/><circle cx="467.2" cy="339.5" r="0.7"/><circle cx="468.0" cy="334.9" r="0.7"/><circle cx="468.7" cy="330.1" r="0.7"/><circle cx="469.3" cy="325.8" r="0.7"/><circle cx="469.9" cy="321.4" r="0.7"/><circle cx="470.4" cy="317.1" r="0.7"/><circle cx="470.8" cy="312.8" r="0.7"/><circle cx="471.2" cy="308.4" r="0.7"/><circle cx="471.5" cy="303.9" r="0.7"/><circle cx="471.8" cy="299.4" r="0.7"/><circle cx="472.1" cy="294.8" r="0.7"/><circle cx="472.4" cy="290.3" r="0.7"/><circle cx="472.7" cy="285.6" r="0.7"/><circle cx="472.9" cy="280.7" r="0.7"/><circle cx="473.2" cy="275.8" r="0.7"/><circle cx="473.4" cy="271.1" r="0.7"/><circle cx="473.6" cy="266.9" r="0.7"/><circle cx="473.9" cy="262.2" r="0.7"/><circle cx="474.1" cy="257.7" r="0.7"/><circle cx="474.4" cy="253.4" r="0.7"/><circle cx="474.4" cy="253.4" r="0.7"/></g>
<path d="M323.6 436.6C323.7 435.4 323.9 432.0 324.0 429.4C324.1 426.8 324.2 423.6 324.4 420.7C324.6 417.8 325.0 414.5 325.4 412.1C325.8 409.7 326.1 407.8 326.5 406.3C326.9 404.8 327.2 404.0 327.7 402.9C328.2 401.8 328.7 400.5 329.4 399.4C330.1 398.3 330.8 397.4 331.7 396.5C332.6 395.6 333.6 394.8 334.6 394.0C335.7 393.2 337.1 392.1 338.0 391.9C338.9 391.6 339.3 392.2 340.3 392.5C341.3 392.8 342.5 393.3 343.8 393.6C345.1 393.9 346.9 394.0 348.4 394.2C349.9 394.4 351.3 394.5 353.0 394.8C354.7 395.1 357.1 395.9 358.8 396.2C360.5 396.5 361.6 396.4 363.4 396.5C365.1 396.6 365.9 396.7 369.3 396.7C372.7 396.7 379.0 396.8 383.8 396.4C388.6 396.0 393.4 395.3 398.2 394.5C403.0 393.7 408.8 392.9 412.7 391.8C416.6 390.8 419.1 389.4 421.8 388.2C424.5 387.0 426.7 385.7 429.1 384.5C431.5 383.3 434.0 382.2 436.4 380.9C438.8 379.5 441.5 377.5 443.6 376.4C445.7 375.3 447.3 374.9 449.1 374.5C450.9 374.1 453.1 374.6 454.5 374.2C455.9 373.8 456.5 373.1 457.3 371.8C458.1 370.5 458.5 368.7 459.1 366.4C459.7 364.1 460.1 361.1 460.9 358.2C461.6 355.3 462.7 352.1 463.6 349.1C464.5 346.1 465.7 342.5 466.4 340.0C467.1 337.5 467.0 338.8 467.7 333.9C468.4 329.0 469.7 317.7 470.4 310.4C471.1 303.1 471.3 297.0 471.7 290.3C472.1 283.6 472.4 276.0 472.8 270.1C473.2 264.2 473.6 257.5 473.8 255.0" fill="none" stroke="#3030ff" stroke-width="0.7" stroke-opacity="0.75"/>
<g fill="none" stroke="#4040ff" stroke-width="0.85" stroke-opacity="0.72"><circle cx="323.6" cy="436.6" r="1.4"/><circle cx="324.0" cy="429.4" r="1.4"/><circle cx="324.3" cy="422.2" r="1.4"/><circle cx="325.0" cy="415.0" r="1.4"/><circle cx="326.1" cy="408.0" r="1.4"/><circle cx="327.3" cy="403.9" r="1.4"/><circle cx="329.1" cy="399.9" r="1.4"/><circle cx="331.6" cy="396.6" r="1.4"/><circle cx="334.8" cy="393.8" r="1.4"/><circle cx="338.5" cy="391.8" r="1.4"/><circle cx="342.5" cy="393.3" r="1.4"/><circle cx="346.7" cy="394.0" r="1.4"/><circle cx="350.9" cy="394.5" r="1.4"/><circle cx="355.1" cy="395.3" r="1.4"/><circle cx="359.3" cy="396.3" r="1.4"/><circle cx="363.6" cy="396.5" r="1.4"/><circle cx="367.8" cy="396.7" r="1.4"/><circle cx="372.1" cy="396.7" r="1.4"/><circle cx="376.5" cy="396.7" r="1.4"/><circle cx="380.8" cy="396.6" r="1.4"/><circle cx="385.2" cy="396.3" r="1.4"/><circle cx="389.6" cy="395.8" r="1.4"/><circle cx="393.9" cy="395.2" r="1.4"/><circle cx="398.2" cy="394.5" r="1.4"/><circle cx="402.7" cy="393.8" r="1.4"/><circle cx="407.3" cy="393.0" r="1.4"/><circle cx="411.5" cy="392.1" r="1.4"/><circle cx="415.6" cy="390.9" r="1.4"/><circle cx="419.6" cy="389.2" r="1.4"/><circle cx="423.6" cy="387.3" r="1.4"/><circle cx="427.4" cy="385.4" r="1.4"/><circle cx="431.3" cy="383.4" r="1.4"/><circle cx="435.2" cy="381.6" r="1.4"/><circle cx="438.9" cy="379.4" r="1.4"/><circle cx="442.5" cy="377.0" r="1.4"/><circle cx="446.5" cy="375.2" r="1.4"/><circle cx="450.6" cy="374.4" r="1.4"/><circle cx="454.9" cy="374.1" r="1.4"/><circle cx="457.7" cy="371.0" r="1.4"/><circle cx="459.0" cy="366.8" r="1.4"/><circle cx="459.9" cy="362.5" r="1.4"/><circle cx="461.4" cy="356.4" r="1.4"/><circle cx="463.1" cy="350.6" r="1.4"/><circle cx="465.0" cy="344.7" r="1.4"/><circle cx="467.7" cy="333.9" r="1.4"/><circle cx="469.2" cy="322.2" r="1.4"/><circle cx="470.3" cy="311.1" r="1.4"/><circle cx="471.1" cy="300.1" r="1.4"/><circle cx="472.0" cy="284.1" r="1.4"/><circle cx="472.9" cy="267.7" r="1.4"/><circle cx="473.8" cy="255.0" r="1.4"/><circle cx="323.6" cy="436.5" r="1.4"/><circle cx="323.6" cy="436.5" r="1.4"/><circle cx="323.7" cy="435.4" r="1.4"/><circle cx="337.3" cy="392.2" r="1.4"/><circle cx="338.3" cy="391.8" r="1.4"/><circle cx="339.3" cy="392.1" r="1.4"/><circle cx="347.9" cy="394.1" r="1.4"/><circle cx="349.0" cy="394.3" r="1.4"/><circle cx="350.0" cy="394.4" r="1.4"/><circle cx="370.8" cy="396.7" r="1.4"/><circle cx="372.1" cy="396.7" r="1.4"/><circle cx="373.5" cy="396.7" r="1.4"/><circle cx="445.9" cy="375.4" r="1.4"/><circle cx="447.0" cy="375.0" r="1.4"/><circle cx="448.0" cy="374.7" r="1.4"/><circle cx="457.7" cy="371.0" r="1.4"/><circle cx="458.1" cy="370.0" r="1.4"/><circle cx="458.4" cy="368.9" r="1.4"/><circle cx="473.7" cy="256.2" r="1.4"/><circle cx="473.8" cy="255.0" r="1.4"/><circle cx="473.8" cy="255.0" r="1.4"/></g>
<rect x="325.2" y="261.5" width="45.3" height="22.0" fill="#fff" stroke="#a4a4a4" stroke-width="1"/>
<path d="M327.8 267.3H339.5" stroke="#ff5a5a" stroke-width="1" stroke-opacity="0.6"/>
<circle cx="333.6" cy="267.3" r="0.9" fill="#ff0000"/>
<path d="M327.8 277.5H339.5" stroke="#5a5aff" stroke-width="1" stroke-opacity="0.6"/>
<circle cx="333.6" cy="277.5" r="1.5" fill="none" stroke="#4848ff" stroke-width="0.85" stroke-opacity="0.75"/>
<text x="340.6" y="270.2" class="lg" style="font-size:7.90px">SCO</text>
<text x="340.6" y="280.4" class="lg" style="font-size:7.90px">GPOPS</text>
<text class="ml" transform="translate(12.8 107) rotate(-90)" text-anchor="middle" textLength="22.5" lengthAdjust="spacingAndGlyphs"><tspan font-style="italic">h</tspan>(<tspan font-style="italic">km</tspan>)</text>
<text class="ml" x="139.4" y="222" text-anchor="middle" textLength="22" lengthAdjust="spacingAndGlyphs"><tspan font-style="italic">x</tspan>(<tspan font-style="italic">km</tspan>)</text>
<text class="ml" transform="translate(282.3 108) rotate(-90)" text-anchor="middle" textLength="28.5" lengthAdjust="spacingAndGlyphs"><tspan font-style="italic">V</tspan> (<tspan font-style="italic">m</tspan>/<tspan font-style="italic">s</tspan>)</text>
<text class="ml" x="419" y="223.5" text-anchor="middle" font-style="italic">ϵ</text>
<text class="ms" transform="translate(17.8 345) rotate(-90)" text-anchor="middle"><tspan font-style="italic">γ</tspan>(°)</text>
<text class="me" x="138.9" y="449.8" text-anchor="middle" font-style="italic">ϵ</text>
<text class="ms" transform="translate(297.6 345) rotate(-90)" text-anchor="middle"><tspan font-style="italic">α</tspan>(°)</text>
<text class="me" x="418.6" y="451.2" text-anchor="middle" font-style="italic">ϵ</text>
<text class="cap" x="69.0" y="241.2" font-weight="bold">(a)</text><text class="cap" x="84.3" y="241.2" textLength="110.0" lengthAdjust="spacingAndGlyphs">Range−Altitude Curve</text>
<text class="cap" x="347.0" y="241.0" font-weight="bold">(b)</text><text class="cap" x="363.8" y="241.0" textLength="112.5" lengthAdjust="spacingAndGlyphs">Energy−Velocity Curve</text>
<text class="cap" x="46.5" y="468.4" font-weight="bold">(c)</text><text class="cap" x="61.8" y="468.4" textLength="155.0" lengthAdjust="spacingAndGlyphs">Energy−Trajectory Angle Curve</text>
<text class="cap" x="328.5" y="468.4" font-weight="bold">(d)</text><text class="cap" x="346.0" y="468.4" textLength="148.8" lengthAdjust="spacingAndGlyphs">Energy−Angle of Attack Curve</text>
</svg>
</body></html>
